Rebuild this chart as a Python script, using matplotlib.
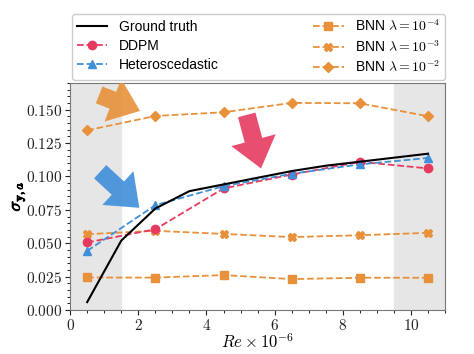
import matplotlib
matplotlib.use("Agg")
import matplotlib.pyplot as plt
import matplotlib.patheffects as pe
from matplotlib.patches import FancyArrowPatch
from matplotlib.ticker import AutoMinorLocator, FuncFormatter

plt.rcParams['mathtext.fontset'] = 'cm'

# Data
re_gt = [0.5, 1.5, 2.5, 3.5, 4.5, 5.5, 6.5, 7.5, 8.5, 9.5, 10.5]
ground_truth = [0.006, 0.052, 0.076, 0.089, 0.094, 0.099, 0.104, 0.108, 0.111, 0.114, 0.117]

re = [0.5, 2.5, 4.5, 6.5, 8.5, 10.5]
ddpm = [0.0506, 0.0605, 0.091, 0.1014, 0.1109, 0.106]
hetero = [0.0443, 0.0785, 0.0927, 0.102, 0.109, 0.1138]
bnn_4 = [0.0244, 0.0243, 0.0262, 0.0232, 0.0242, 0.0242]
bnn_3 = [0.0568, 0.0593, 0.057, 0.0546, 0.056, 0.0578]
bnn_2 = [0.1345, 0.1452, 0.148, 0.155, 0.1547, 0.145]

red = '#e63b5f'
blue = '#3f8fd9'
orange = '#e8913a'

fig = plt.figure(figsize=(4.74, 3.54), dpi=100)
ax = fig.add_axes([0.148, 0.124, 0.791, 0.642])

ax.axvspan(0, 1.5, color='#e6e6e6', zorder=0)
ax.axvspan(9.5, 11, color='#e6e6e6', zorder=0)

ax.plot(re_gt, ground_truth, color='black', lw=1.5, label='Ground truth', zorder=5)
ax.plot(re, ddpm, '--o', color=red, lw=1.3, ms=6, label='DDPM', zorder=4)
ax.plot(re, hetero, '--^', color=blue, lw=1.3, ms=6, label='Heteroscedastic', zorder=4)
ax.plot(re, bnn_4, '--s', color=orange, lw=1.3, ms=6, label=r'BNN $\lambda = 10^{-4}$')
ax.plot(re, bnn_3, '--X', color=orange, lw=1.3, ms=6, label=r'BNN $\lambda = 10^{-3}$')
ax.plot(re, bnn_2, '--D', color=orange, lw=1.3, ms=5.5, label=r'BNN $\lambda = 10^{-2}$')

arrow_style = 'simple,head_length=21,head_width=33,tail_width=13'
for (x0, y0), (x1, y1), c in [((0.85, 0.161), (2.05, 0.149), orange),
                              ((0.88, 0.1035), (2.03, 0.0765), blue),
                              ((5.18, 0.146), (5.6, 0.106), red)]:
    ax.add_patch(FancyArrowPatch((x0, y0), (x1, y1), arrowstyle=arrow_style,
                                 mutation_scale=1, color=c, alpha=0.9,
                                 shrinkA=0, shrinkB=0, lw=0, zorder=6))

ax.set_xlim(0, 11)
ax.set_ylim(0, 0.17)
ax.set_xticks([0, 2, 4, 6, 8, 10])
ax.set_yticks([0, 0.025, 0.05, 0.075, 0.1, 0.125, 0.15])
ax.xaxis.set_major_formatter(FuncFormatter(lambda v, p: f'${v:.0f}$'))
ax.yaxis.set_major_formatter(FuncFormatter(lambda v, p: f'${v:.3f}$'))
ax.xaxis.set_minor_locator(AutoMinorLocator(4))
ax.yaxis.set_minor_locator(AutoMinorLocator(5))
ax.tick_params(labelsize=11, colors='#222222', pad=2)
ax.tick_params(which='minor', length=2)
for s in ax.spines.values():
    s.set_color('#777777')

ax.set_xlabel(r'$Re \times 10^{-6}$', fontsize=12, labelpad=0)
ylab = ax.set_ylabel(r'$\sigma_{\mathbf{y},a}$', fontsize=12.5, labelpad=-1)
ylab.set_path_effects([pe.withStroke(linewidth=0.6, foreground='black')])

ax.legend(loc='lower left', bbox_to_anchor=(0.005, 1.012, 0.995, 0.2), mode='expand',
          ncol=2, prop={'family': 'Liberation Sans', 'size': 10}, handlelength=2.2,
          borderaxespad=0, labelspacing=0.35, borderpad=0.35, framealpha=1,
          edgecolor='#cccccc')

fig.savefig('out.png', dpi=100)
